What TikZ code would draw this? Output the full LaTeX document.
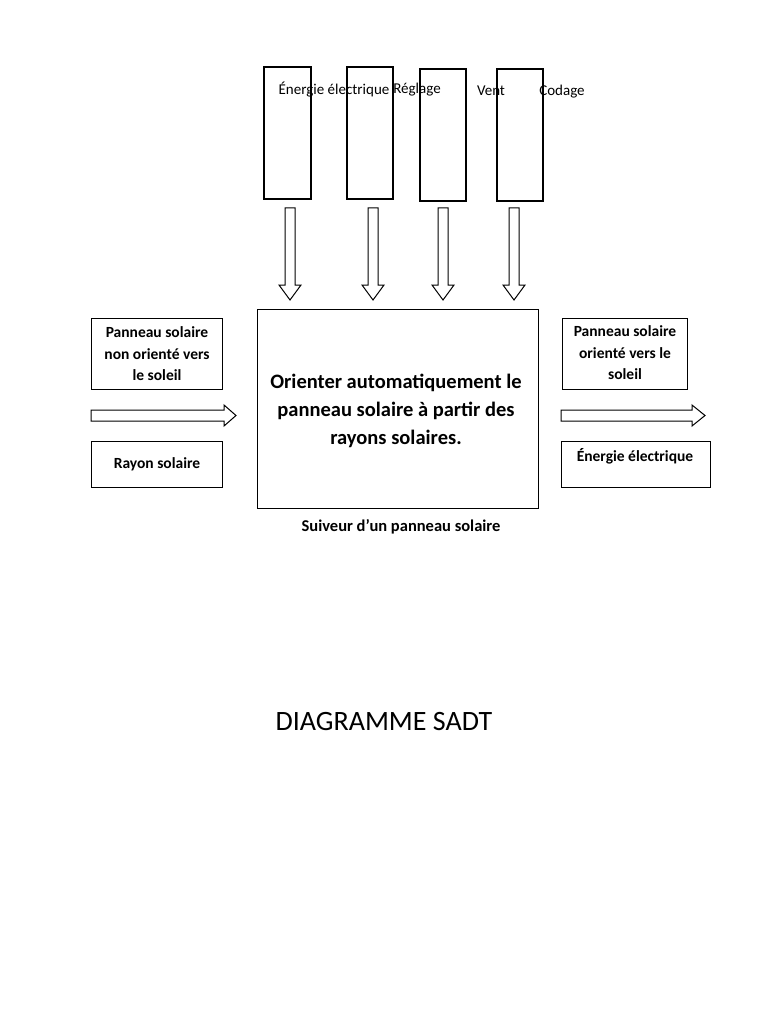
\documentclass[tikz,border=0pt]{standalone}
\usepackage{fontspec}
\setmainfont{Carlito}
\begin{document}
\begin{tikzpicture}[x=1pt,y=-1pt,
  bx/.style={draw,line width=1.2pt},
  hol/.style={draw,line width=1pt,fill=white},
  lbl/.style={font=\bfseries\fontsize{15.5}{21.5}\selectfont,align=center},
  toplbl/.style={font=\fontsize{15}{17}\selectfont}]
\useasboundingbox (0,0) rectangle (768,1024);
\fill[white] (0,0) rectangle (768,1024);
% top boxes
\draw[bx] (264,67) rectangle (311,199);
\draw[bx] (347,67) rectangle (393,199);
\draw[bx] (420,69) rectangle (466,201);
\draw[bx] (497,69) rectangle (543,201);
\node[toplbl] (l1) at (334,90) {Énergie électrique};
\node[toplbl] (l2) at (417,90) {Réglage};
\node[toplbl] (l3) at (491,91) {Vent};
\node[toplbl] (l4) at (562,92) {Codage};
% hollow down arrows
\foreach \x in {290,373,443,514}{
  \draw[hol] (\x-5,208) -- (\x+5,208) -- (\x+5,285) -- (\x+11,285) -- (\x,300) -- (\x-11,285) -- (\x-5,285) -- cycle;
}
% main box
\node[bx,minimum width=281pt,minimum height=199pt,anchor=north west] (main) at (257,309) {};
\node[font=\bfseries\fontsize{20.5}{28}\selectfont,align=center] (mt) at (396,411) {Orienter automatiquement le\\panneau solaire à partir des\\rayons solaires.};
\node[font=\bfseries\fontsize{16.5}{20}\selectfont] (cap) at (401,527) {Suiveur d’un panneau solaire};
% left
\node[bx,minimum width=131pt,minimum height=71pt,anchor=north west] (lb1) at (91,318) {};
\node[lbl] at (157,354) {Panneau solaire\\non orienté vers\\le soleil};
\node[bx,minimum width=131pt,minimum height=46pt,anchor=north west] (lb2) at (91,441) {};
\node[lbl] at (157,464) {Rayon solaire};
\draw[hol] (91,410) -- (224,410) -- (224,405) -- (236,415.5) -- (224,426) -- (224,421) -- (91,421) -- cycle;
% right
\node[bx,minimum width=125pt,minimum height=71pt,anchor=north west] (rb1) at (562,318) {};
\node[lbl] at (625,353) {Panneau solaire\\orienté vers le\\soleil};
\node[bx,minimum width=149pt,minimum height=46pt,anchor=north west] (rb2) at (561,441) {};
\node[lbl] at (635,456) {Énergie électrique};
\draw[hol] (561,410) -- (692,410) -- (692,405) -- (705,415.5) -- (692,426) -- (692,421) -- (561,421) -- cycle;
\node[font=\fontsize{28}{30}\selectfont] (title) at (384,722) {DIAGRAMME SADT};
\end{tikzpicture}
\end{document}
